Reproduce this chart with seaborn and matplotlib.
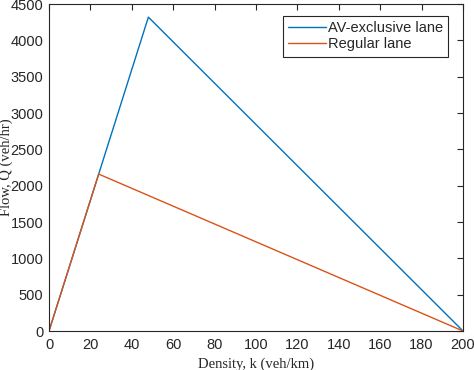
import pandas as pd
import matplotlib
matplotlib.use("Agg")
import matplotlib.pyplot as plt
import seaborn as sns

# fundamental diagram points (density veh/km, flow veh/hr)
k_av = [0, 48, 200]
q_av = [0, 4320, 0]
k_reg = [0, 24, 200]
q_reg = [0, 2160, 0]

x_ticks = list(range(0, 201, 20))
y_ticks = list(range(0, 4501, 500))

df = pd.concat([
    pd.DataFrame({"k": k_av, "q": q_av, "lane": "AV-exclusive lane"}),
    pd.DataFrame({"k": k_reg, "q": q_reg, "lane": "Regular lane"}),
])

sns.set_style("white")
plt.rcParams["font.family"] = ["Liberation Sans", "DejaVu Sans"]

fig = plt.figure(figsize=(4.74, 3.70), dpi=100)
ax = fig.add_axes([0.1034, 0.1054, 0.8734, 0.8836])

sns.lineplot(data=df, x="k", y="q", hue="lane", sort=False,
             palette=["#0072BD", "#D95319"], linewidth=1.0, ax=ax)

ax.set_xlim(0, 200)
ax.set_ylim(0, 4500)
ax.set_xticks(x_ticks)
ax.set_yticks(y_ticks)
ax.tick_params(direction="in", length=4, width=0.8, top=True, right=True,
               labelsize=10.5, colors="#262626")
ax.tick_params(axis="x", pad=5)
ax.tick_params(axis="y", pad=4)
for s in ax.spines.values():
    s.set_color("#262626")
    s.set_linewidth(0.8)

ax.set_xlabel("Density, k (veh/km)", family="Liberation Serif", fontsize=10.5, labelpad=4)
ax.set_ylabel("Flow, Q (veh/hr)", family="Liberation Serif", fontsize=10.5)
ax.yaxis.set_label_coords(-0.086, 0.5)

leg = ax.legend(loc="upper right", bbox_to_anchor=(0.964, 0.963), borderaxespad=0,
                fontsize=10.5, fancybox=False, framealpha=1, edgecolor="#262626",
                handlelength=2.6, handletextpad=0.15, borderpad=0.35, labelspacing=0.15)
leg.get_frame().set_linewidth(0.8)

fig.savefig("out.png", dpi=100)
